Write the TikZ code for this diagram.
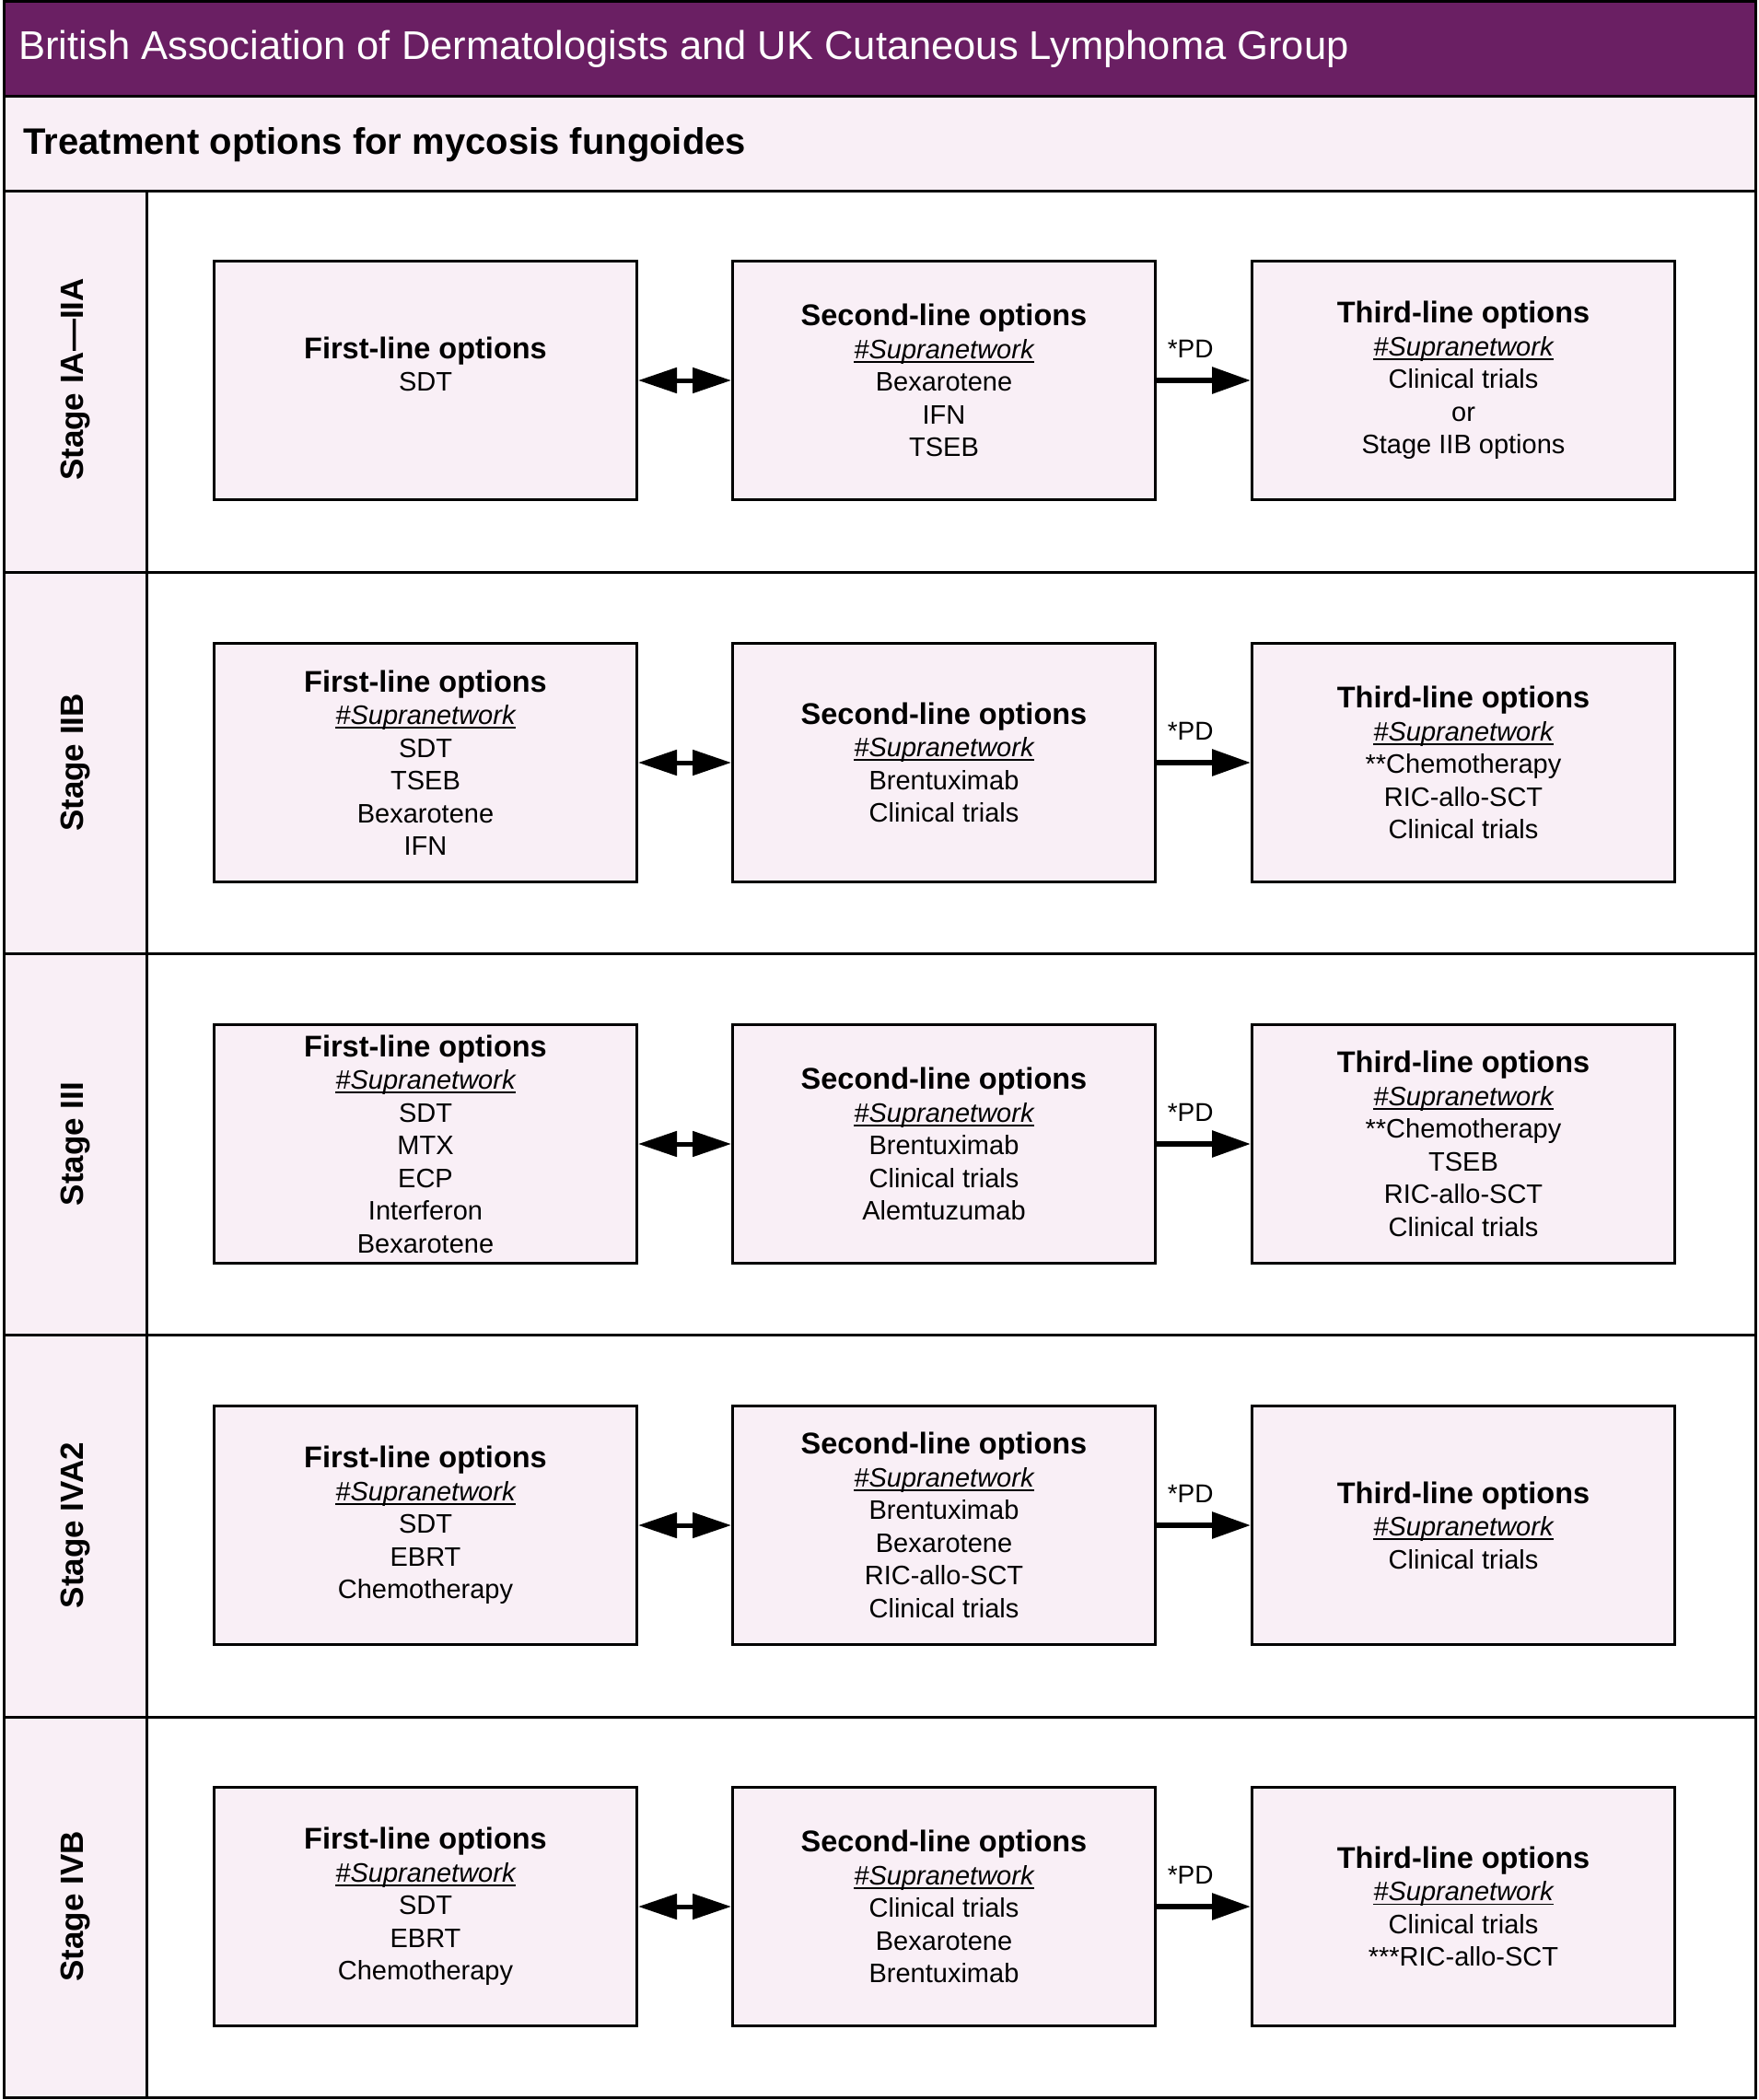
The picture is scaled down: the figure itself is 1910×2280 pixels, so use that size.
\documentclass[tikz,border=0pt]{standalone}
\usepackage{fontspec}
\setmainfont{Liberation Sans}
\usetikzlibrary{arrows.meta}
\definecolor{bpurple}{HTML}{6A1F63}
\definecolor{bpink}{HTML}{F9EFF6}
\newcommand\supranet{\setbox0\hbox{\itshape\#Supranetwork}\rlap{\rule[-2.2pt]{\wd0}{0.9pt}}\box0}
\newcommand\ttl[1]{{\bfseries\fontsize{16.25}{17.75}\selectfont #1}}
\tikzset{
  frame/.style={line width=1.5pt, draw=black},
  optbox/.style={draw=black, line width=1.5pt, fill=bpink, minimum width=229.5pt, minimum height=129.5pt,
     inner sep=0pt, align=center, font=\fontsize{14.5}{17.75}\selectfont},
  stagelbl/.style={rotate=90, inner sep=0pt, font=\bfseries\fontsize{17.5}{20}\selectfont},
  dblarrow/.style={line width=2.5pt, {Triangle[length=21pt,width=13.5pt]}-{Triangle[length=21pt,width=13.5pt]}},
  pdarrow/.style={line width=3pt, -{Triangle[length=21pt,width=14pt]}},
  pdlbl/.style={above=11pt, inner sep=0pt, font=\fontsize{14}{16}\selectfont}
}
\begin{document}
\begin{tikzpicture}[x=0.5pt, y=-0.5pt]
\useasboundingbox (0,0) rectangle (1910,2280);
% backgrounds
\fill[white] (4,2) rectangle (1906,2277);
\fill[bpurple] (4,2) rectangle (1906,105);
\fill[bpink] (4,105) rectangle (1906,207);
\fill[bpink] (4,207) rectangle (159,2277);
% grid lines
\draw[frame] (4,2) rectangle (1906,2277);
\foreach \yy in {105,207,621,1035,1449,1864} \draw[frame] (4,\yy) -- (1906,\yy);
\draw[frame] (159,207) -- (159,2277);
% titles
\node[anchor=base west, inner sep=0pt, text=white, font=\fontsize{21.75}{26}\selectfont] (title) at (20,65)
  {British Association of Dermatologists and UK Cutaneous Lymphoma Group};
\node[anchor=base west, inner sep=0pt, font=\bfseries\fontsize{20}{24}\selectfont] (subtitle) at (25,167)
  {Treatment options for mycosis fungoides};
% stage labels
\node[stagelbl] (s1) at (81.5,412) {Stage IA---IIA};
\node[stagelbl] (s2) at (81.5,828) {Stage IIB};
\node[stagelbl] (s3) at (81.5,1242) {Stage III};
\node[stagelbl] (s4) at (81.5,1656) {Stage IVA2};
\node[stagelbl] (s5) at (81.5,2070) {Stage IVB};
% row 1
\node[optbox] (r1a) at (462,413) {\ttl{First-line options}\\SDT\\\mbox{}};
\node[optbox] (r1b) at (1025,413) {\ttl{Second-line options}\\\supranet\\Bexarotene\\IFN\\TSEB};
\node[optbox] (r1c) at (1589,413) {\ttl{Third-line options}\\\supranet\\Clinical trials\\or\\Stage IIB options};
% row 2
\node[optbox] (r2a) at (462,828) {\ttl{First-line options}\\\supranet\\SDT\\TSEB\\Bexarotene\\IFN};
\node[optbox] (r2b) at (1025,828) {\ttl{Second-line options}\\\supranet\\Brentuximab\\Clinical trials};
\node[optbox] (r2c) at (1589,828) {\ttl{Third-line options}\\\supranet\\**Chemotherapy\\RIC-allo-SCT\\Clinical trials};
% row 3
\node[optbox] (r3a) at (462,1242) {\ttl{First-line options}\\\supranet\\SDT\\MTX\\ECP\\Interferon\\Bexarotene};
\node[optbox] (r3b) at (1025,1242) {\ttl{Second-line options}\\\supranet\\Brentuximab\\Clinical trials\\Alemtuzumab};
\node[optbox] (r3c) at (1589,1242) {\ttl{Third-line options}\\\supranet\\**Chemotherapy\\TSEB\\RIC-allo-SCT\\Clinical trials};
% row 4
\node[optbox] (r4a) at (462,1656) {\ttl{First-line options}\\\supranet\\SDT\\EBRT\\Chemotherapy};
\node[optbox] (r4b) at (1025,1656) {\ttl{Second-line options}\\\supranet\\Brentuximab\\Bexarotene\\RIC-allo-SCT\\Clinical trials};
\node[optbox] (r4c) at (1589,1656) {\ttl{Third-line options}\\\supranet\\Clinical trials};
% row 5
\node[optbox] (r5a) at (462,2070) {\ttl{First-line options}\\\supranet\\SDT\\EBRT\\Chemotherapy};
\node[optbox] (r5b) at (1025,2070) {\ttl{Second-line options}\\\supranet\\Clinical trials\\Bexarotene\\Brentuximab};
\node[optbox] (r5c) at (1589,2070) {\ttl{Third-line options}\\\supranet\\Clinical trials\\***RIC-allo-SCT};
% connectors
\foreach \r in {1,...,5} {
  \draw[dblarrow] (r\r a.east) -- (r\r b.west);
  \draw[pdarrow] (r\r b.east) -- node[pdlbl, pos=0.36] (pd\r) {*PD} (r\r c.west);
}
\end{tikzpicture}
\end{document}
